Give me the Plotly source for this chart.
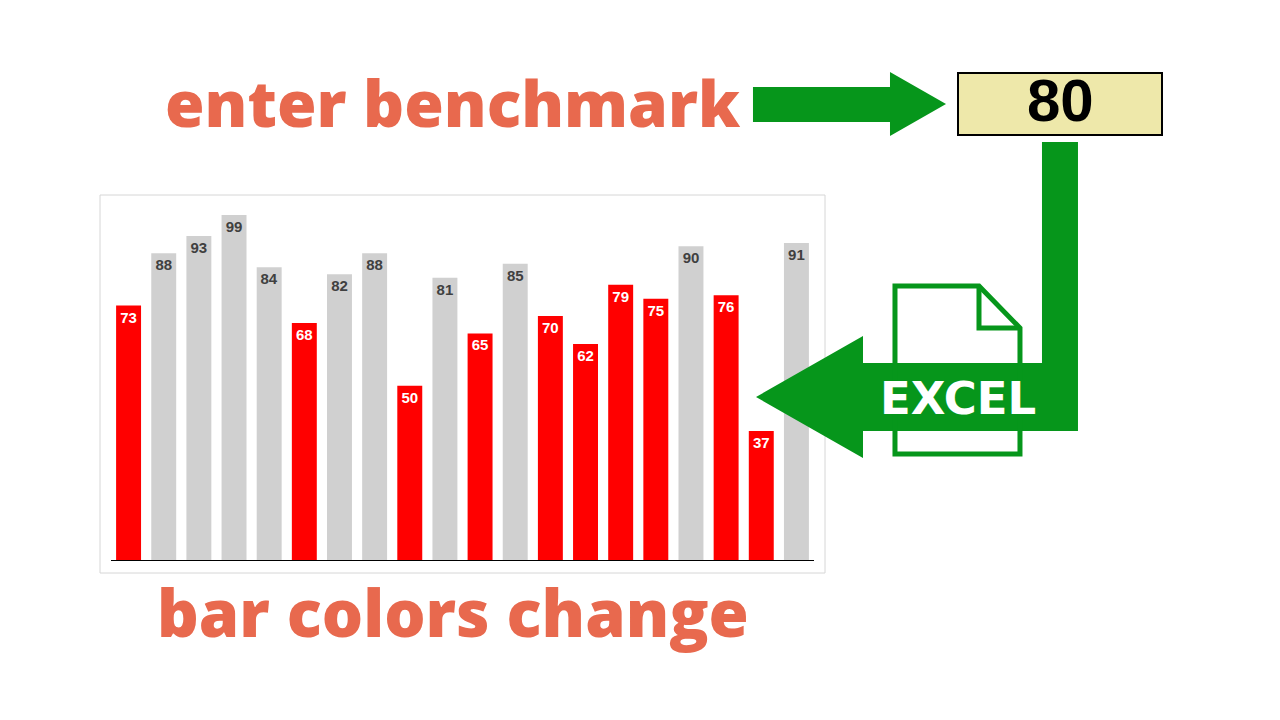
import plotly.graph_objects as go

# chart data
benchmark = 80
categories = [str(i) for i in range(1, 21)]
values = [73, 88, 93, 99, 84, 68, 82, 88, 50, 81, 65, 85, 70, 62, 79, 75, 90, 76, 37, 91]

RED = '#FF0000'
GRAY = '#D0D0D0'
GREEN = '#06961B'
ORANGE = '#E8694E'

bar_colors = [RED if v < benchmark else GRAY for v in values]
label_colors = ['white' if v < benchmark else '#404040' for v in values]

# page offset of the figure (body margin) and plot area in screen pixels
OFF = 8
W, H = 1280 - 2 * OFF, 720 - 2 * OFF
L, R, T, B = 111, 814, 195, 560


def px(x):
    return (x - L) / (R - L)


def py(y):
    return (B - y) / (B - T)


def path(points, close=True):
    s = 'M ' + ' L '.join(f'{px(x):.4f},{py(y):.4f}' for x, y in points)
    return s + (' Z' if close else '')


fig = go.Figure()
fig.add_trace(go.Bar(
    x=categories,
    y=values,
    marker=dict(color=bar_colors, line=dict(width=0)),
    text=values,
    texttemplate='<b>%{text}</b>',
    textposition='inside',
    insidetextanchor='end',
    textangle=0,
    textfont=dict(family='Liberation Sans, Arial', size=15, color=label_colors),
    hoverinfo='skip',
))

shapes = [
    # light frame around the chart
    dict(type='rect', xref='paper', yref='paper', x0=px(100), x1=px(825), y0=py(195), y1=py(573),
         line=dict(color='#D6D6D6', width=1), layer='below'),
    # arrow pointing to the benchmark cell
    dict(type='path', xref='paper', yref='paper', fillcolor=GREEN, line=dict(width=0),
         path=path([(753, 87), (890, 87), (890, 72), (946, 104), (890, 136), (890, 122), (753, 122)])),
    # benchmark cell
    dict(type='rect', xref='paper', yref='paper', x0=px(958), x1=px(1162), y0=py(73), y1=py(135),
         fillcolor='#EEE8AA', line=dict(color='black', width=2)),
    # L-shaped arrow back to the chart
    dict(type='path', xref='paper', yref='paper', fillcolor=GREEN, line=dict(width=0),
         path=path([(1042, 142), (1078, 142), (1078, 431), (863, 431), (863, 458), (756, 397),
                    (863, 336), (863, 363), (1042, 363)])),
    # excel file icon
    dict(type='path', xref='paper', yref='paper', line=dict(color=GREEN, width=5),
         path=path([(895, 286), (979, 286), (1020, 328), (1020, 454), (895, 454)])),
    dict(type='path', xref='paper', yref='paper', line=dict(color=GREEN, width=5),
         path=path([(979, 286), (979, 328), (1020, 328)], close=False)),
]

annotations = [
    dict(text='enter benchmark', x=px(453), y=py(102), xref='paper', yref='paper', showarrow=False,
         xanchor='center', yanchor='middle',
         font=dict(family='Open Sans', size=64, color=ORANGE, weight=800)),
    dict(text='bar colors change', x=px(453), y=py(612), xref='paper', yref='paper', showarrow=False,
         xanchor='center', yanchor='middle',
         font=dict(family='Open Sans', size=65, color=ORANGE, weight=800)),
    dict(text=str(benchmark), x=px(1060), y=py(101), xref='paper', yref='paper', showarrow=False,
         xanchor='center', yanchor='middle',
         font=dict(family='Liberation Sans, Arial', size=60, color='black', weight='bold')),
    dict(text='EXCEL', x=px(958), y=py(398), xref='paper', yref='paper', showarrow=False,
         xanchor='center', yanchor='middle',
         font=dict(family='DejaVu Sans', size=45, color='white', weight='bold')),
]

fig.update_layout(
    width=W, height=H,
    margin=dict(l=L - OFF, r=W + OFF - R, t=T - OFF, b=H + OFF - B),
    paper_bgcolor='white', plot_bgcolor='white',
    bargap=0.29,
    showlegend=False,
    shapes=shapes,
    annotations=annotations,
    uniformtext=dict(minsize=8, mode='show'),
)
fig.update_xaxes(showticklabels=False, ticks='', showgrid=False, showline=True,
                 linecolor='black', linewidth=1, zeroline=False)
fig.update_yaxes(range=[0, (B - T) / ((B - 215) / 99)], visible=False, showgrid=False)

fig.write_html('out.html')
